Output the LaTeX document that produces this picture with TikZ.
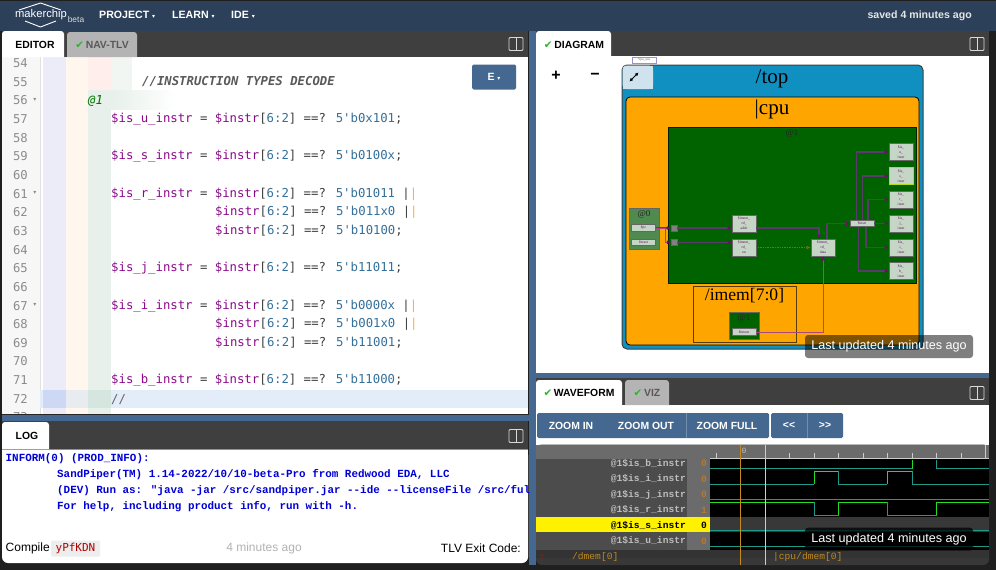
\documentclass[tikz,border=0pt]{standalone}
\usepackage{fontspec}
\usetikzlibrary{arrows.meta}
\setmainfont{Liberation Sans}
\newfontfamily\codefont{DejaVu Sans Mono}
\newfontfamily\logfont{Liberation Mono}
\newfontfamily\diagfont{Liberation Serif}
\newfontfamily\symfont{DejaVu Sans}
\newcommand{\fsz}[1]{\fontsize{#1}{#1}\selectfont}
\definecolor{topbar}{HTML}{2D4059}
\definecolor{steel}{HTML}{44688F}
\definecolor{tabbar}{HTML}{3F3F3F}
\definecolor{tabgray}{HTML}{B4B4B4}
\definecolor{okgreen}{HTML}{2DB52D}
\definecolor{varpurple}{HTML}{8B0A8B}
\definecolor{numblue}{HTML}{35709A}
\definecolor{barorange}{HTML}{F5B041}
\definecolor{topblue}{HTML}{1090C0}
\definecolor{cpuorange}{HTML}{FFA500}
\definecolor{expandpale}{HTML}{CFE3EF}
\definecolor{stagezero}{HTML}{4F8A4F}
\definecolor{wirepurple}{HTML}{5B3A6E}
\definecolor{tippurple}{HTML}{800080}
\definecolor{wirepink}{HTML}{A8487E}
\definecolor{boxfill}{HTML}{C6D6C6}
\definecolor{lowteal}{HTML}{1F9A8A}
\definecolor{highgreen}{HTML}{22DD22}
\definecolor{namegray}{HTML}{BDBDBD}
\definecolor{valorange}{HTML}{B57A30}
\definecolor{dmemorange}{HTML}{C08A20}
\definecolor{cursorline}{HTML}{C88A1E}
\definecolor{bandblue}{HTML}{ECECF8}
\definecolor{bandorange}{HTML}{FFF7EE}
\definecolor{bandpink}{HTML}{FFEEEC}
\definecolor{bandgreen}{HTML}{E7F0EA}
\definecolor{lineblue}{HTML}{E3EDF9}
\definecolor{linebandblue}{HTML}{CCD8F4}
\definecolor{linebandgray}{HTML}{E8EBF0}
\definecolor{linebandgreen}{HTML}{D5E6E0}
\newcommand{\sigvar}[1]{\textcolor{varpurple}{#1}}
\newcommand{\numval}[1]{\textcolor{numblue}{#1}}
\newcommand{\rhsmatch}[1]{\sigvar{\$instr}[\numval{6:2}] ==? \numval{#1}}
\newcommand{\barop}{|\textcolor{barorange}{|}}
\tikzset{
  lineno/.style={anchor=east,inner sep=0pt,yshift=-.5pt,text=black!45,font=\codefont\fsz{12.2}},
  foldmark/.style={inner sep=0pt,text=black!45,font=\symfont\fsz{6}},
  codeline/.style={anchor=west,inner sep=0pt,yshift=-.8pt,text=black!75,font=\codefont\fsz{12.3}},
  tablabel/.style={inner sep=0pt,font=\bfseries\fsz{10.4}},
  menulabel/.style={inner sep=0pt,text=white,font=\bfseries\fsz{10.6}},
  loglabel/.style={anchor=west,inner sep=0pt,text=blue!85!black,font=\logfont\bfseries\fsz{10.9}},
  iconbox/.style={draw=black!15,line width=.9pt,rounded corners=1pt,minimum width=14pt,minimum height=13pt,inner sep=0pt},
  toast/.style={fill=black,fill opacity=.5,text opacity=1,text=white,rounded corners=3pt,minimum width=168pt,minimum height=23pt,inner sep=0pt,font=\fsz{12.6}},
  sigbox/.style={draw=black!60,fill=boxfill,line width=.7pt,minimum width=24pt,minimum height=17pt,inner sep=0pt,align=center,text=varpurple!70!black,font=\diagfont\fontsize{3.7}{5}\selectfont},
  flatbox/.style={sigbox,minimum height=6.5pt},
  portbox/.style={draw=black!60,fill=black!50,minimum width=6pt,minimum height=6pt,inner sep=0pt},
  stagelabel/.style={inner sep=0pt,text=black!85,font=\diagfont\fsz{9}},
  scopelabel/.style={inner sep=0pt,text=black,font=\diagfont\fsz{21}},
  wire/.style={draw=wirepurple,line width=1.2pt,-{Latex[length=4pt,width=4pt,color=tippurple]}},
  thinwire/.style={draw=wirepink,line width=.7pt,-{Latex[length=4pt,width=4pt,color=tippurple]}},
  dotwire/.style={draw=cpuorange!60!black,line width=.7pt,densely dotted,-{Latex[open,length=4pt,width=4pt]}},
  zoombtn/.style={inner sep=0pt,text=white,font=\bfseries\fsz{10.4}},
  wavename/.style={anchor=east,inner sep=0pt,text=namegray,font=\logfont\bfseries\fsz{9.6}},
  waveval/.style={inner sep=0pt,text=valorange,font=\logfont\bfseries\fsz{9.6}},
  lowline/.style={draw=lowteal,line width=.9pt},
  highline/.style={draw=highgreen,line width=.9pt}
}
\begin{document}
\begin{tikzpicture}[x=1pt,y=-1pt]
\useasboundingbox (0,0) rectangle (996,570);
\fill [black!88] (0,0) rectangle (996,570);
\fill [steel] (529,31) rectangle (536,565);
\fill [topbar] (0,1) rectangle (996,31);
% top bar
\draw [white,line width=.9pt] (19,10) -- (40.5,3) -- (61,10);
\draw [white,line width=.9pt] (25,21) -- (40.5,27) -- (56,21);
\node [inner sep=0pt,text=white,font=\fsz{11.2}] (logo) at (41,15) {makerchip};
\node [inner sep=0pt,text=white!85!black,font=\fsz{8.4}] (beta) at (76,19.5) {beta};
\node [menulabel,anchor=west] (project) at (99,15) {PROJECT \symfont\fsz{6}▾};
\node [menulabel,anchor=west] (learn) at (172,15) {LEARN \symfont\fsz{6}▾};
\node [menulabel,anchor=west] (ide) at (231,15) {IDE \symfont\fsz{6}▾};
\node [menulabel,anchor=east,text=white!90!black] (saved) at (972,15.5) {saved 4 minutes ago};
% editor panel
\fill [tabbar] (2,31) rectangle (528,57);
\fill [white] (2,57) rectangle (528,414);
\fill [black!3] (2,57) rectangle (40,414);
\fill [black!12] (39.5,57) rectangle (40.5,414);
\fill [bandblue] (43,57) rectangle (66,414);
\fill [bandorange] (66,57) rectangle (88,414);
\fill [bandpink] (88,57) rectangle (111,90);
\fill [bandgreen] (88,90) rectangle (111,414);
\fill [bandgreen!60!white] (111,57) rectangle (132,90);
\shade [left color=bandgreen,right color=white] (111,90) rectangle (176,109);
\fill [lineblue] (40,389.5) rectangle (528,408);
\fill [linebandblue] (43,389.5) rectangle (66,408);
\fill [linebandgray] (66,389.5) rectangle (88,408);
\fill [linebandgreen] (88,389.5) rectangle (111,408);
\path [fill=white,rounded corners=3pt] (2,57) -- (2,31) -- (64,31) -- (64,57);
\path [fill=tabgray,rounded corners=3pt] (67,57) -- (67,32) -- (137,32) -- (137,57);
\node [tablabel] (editortab) at (35,45) {EDITOR};
\node [tablabel,text=black!65] (navtab) at (102,45) {\textcolor{okgreen}{\symfont ✔}\,NAV-TLV};
\node [iconbox,draw=black!15] (editoricon) at (516,44) {};
\draw [black!15,line width=.9pt] (editoricon.north) -- (editoricon.south);
\node [fill=steel,rounded corners=1.5pt,minimum width=44pt,minimum height=25pt,inner sep=0pt,text=white,font=\bfseries\fsz{10.5}] (ebtn) at (494,77) {E \symfont\fsz{6}▾};
\node [lineno] (ln54) at (28,62.5) {54};
\node [lineno] (ln55) at (28,81.2) {55};
\node [lineno] (ln56) at (28,99.8) {56};
\node [lineno] (ln57) at (28,118.5) {57};
\node [lineno] (ln58) at (28,137.1) {58};
\node [lineno] (ln59) at (28,155.8) {59};
\node [lineno] (ln60) at (28,174.5) {60};
\node [lineno] (ln61) at (28,193.1) {61};
\node [lineno] (ln62) at (28,211.8) {62};
\node [lineno] (ln63) at (28,230.4) {63};
\node [lineno] (ln64) at (28,249.1) {64};
\node [lineno] (ln65) at (28,267.8) {65};
\node [lineno] (ln66) at (28,286.4) {66};
\node [lineno] (ln67) at (28,305.1) {67};
\node [lineno] (ln68) at (28,323.7) {68};
\node [lineno] (ln69) at (28,342.4) {69};
\node [lineno] (ln70) at (28,361) {70};
\node [lineno] (ln71) at (28,379.7) {71};
\node [lineno] (ln72) at (28,398.4) {72};
\node [lineno] (ln73) at (28,417) {73};
\node [foldmark] (fold56) at (35,100) {▾};
\node [foldmark] (fold61) at (35,193) {▾};
\node [foldmark] (fold67) at (35,305) {▾};
\node [codeline,text=black!65,font=\codefont\bfseries\itshape\fsz{12.3}] (comment55) at (142,81.2) {//INSTRUCTION TYPES DECODE};
\node [codeline,text=green!45!black,font=\codefont\itshape\fsz{12.3}] (stage56) at (88,99.8) {@1};
\node [codeline] (code57) at (111,118.5) {\sigvar{\$is\_u\_instr} = \rhsmatch{5'b0x101};};
\node [codeline] (code59) at (111,155.8) {\sigvar{\$is\_s\_instr} = \rhsmatch{5'b0100x};};
\node [codeline] (code61) at (111,193.1) {\sigvar{\$is\_r\_instr} = \rhsmatch{5'b01011} \barop};
\node [codeline] (code62) at (215,211.8) {\rhsmatch{5'b011x0} \barop};
\node [codeline] (code63) at (215,230.4) {\rhsmatch{5'b10100};};
\node [codeline] (code65) at (111,267.8) {\sigvar{\$is\_j\_instr} = \rhsmatch{5'b11011};};
\node [codeline] (code67) at (111,305.1) {\sigvar{\$is\_i\_instr} = \rhsmatch{5'b0000x} \barop};
\node [codeline] (code68) at (215,323.7) {\rhsmatch{5'b001x0} \barop};
\node [codeline] (code69) at (215,342.4) {\rhsmatch{5'b11001};};
\node [codeline] (code71) at (111,379.7) {\sigvar{\$is\_b\_instr} = \rhsmatch{5'b11000};};
\node [codeline,text=black!60] (code72) at (111,398.4) {//};
\fill [steel] (2,414) rectangle (529,421);
\fill [black!85] (2,414) rectangle (529,415);
% log panel
\fill [tabbar] (2,421) rectangle (528,449);
\path [fill=white,rounded corners=6pt] (2,449) -- (2,563) -- (528,563) -- (528,449) -- cycle;
\fill [white] (2,449) rectangle (528,456);
\fill [steel!70] (2,449) rectangle (528,449.8);
\path [fill=white,rounded corners=3pt] (2,449) -- (2,422) -- (49,422) -- (49,449);
\node [tablabel] (logtab) at (27,436) {LOG};
\node [iconbox] (logicon) at (516,436) {};
\draw [black!15,line width=.9pt] (logicon.north) -- (logicon.south);
\node [loglabel] (log1) at (5.5,458.3) {INFORM(0) (PROD\_INFO):};
\node [loglabel] (log2) at (57,474.7) {SandPiper(TM) 1.14-2022/10/10-beta-Pro from Redwood EDA, LLC};
\node [loglabel] (log3) at (57,491) {(DEV) Run as: "java -jar /src/sandpiper.jar --ide --licenseFile /src/ful};
\node [loglabel] (log4) at (57,507) {For help, including product info, run with -h.};
\node [anchor=west,inner sep=0pt,font=\fsz{12}] (compile) at (5.5,548) {Compile};
\node [fill=black!7,rounded corners=1pt,minimum width=49pt,minimum height=16pt,inner sep=0pt,text=red!70!black,font=\codefont\fsz{11}] (chip) at (75.5,548.5) {yPfKDN};
\node [inner sep=0pt,text=black!30,font=\fsz{12}] (ago) at (264,548) {4 minutes ago};
\node [anchor=east,inner sep=0pt,font=\fsz{12}] (exit) at (521,548) {TLV Exit Code:};
% diagram panel
\fill [tabbar] (536,31) rectangle (989,57);
\fill [white] (536,56) rectangle (989,373);
\fill [steel] (536,373) rectangle (989,378);
\path [fill=white,rounded corners=3pt] (536,57) -- (536,31) -- (611,31) -- (611,57);
\node [tablabel] (diagramtab) at (574,44.5) {\textcolor{okgreen}{\symfont ✔}\,DIAGRAM};
\node [iconbox] (diagramicon) at (977,44) {};
\draw [black!15,line width=.9pt] (diagramicon.north) -- (diagramicon.south);
\node [draw=blue!40!gray!60,line width=.5pt,minimum width=24pt,minimum height=6pt,inner sep=0pt,text=black!60,font=\fsz{3}] (cpuuse) at (644,60) {*cpu\_use};
\node [inner sep=0pt,font=\bfseries\fsz{16}] (plus) at (556,76) {+};
\node [inner sep=0pt,font=\bfseries\fsz{16}] (minus) at (595,76) {−};
\draw [black!75,fill=topblue,line width=1pt,rounded corners=5pt] (622,65) rectangle (923,349);
\path [fill=expandpale,rounded corners=4pt] (653,89) -- (622.5,89) -- (622.5,65.5) -- (653,65.5) -- cycle;
\fill [expandpale] (640,89) rectangle (653,65.5);
\fill [expandpale] (622.5,80) rectangle (653,89);
\draw [{Latex[length=3.5pt,width=3.5pt]}-{Latex[length=3.5pt,width=3.5pt]},line width=1pt] (629.5,81.5) -- (638.5,72.5);
\node [scopelabel] (toplabel) at (772,79) {/top};
\draw [black,fill=cpuorange,line width=.8pt,rounded corners=4pt] (626,97) rectangle (919,345);
\node [scopelabel] (cpulabel) at (772,109) {|cpu};
\draw [black!70!green!40!black,fill=green!39!black,line width=.8pt] (668,127) rectangle (916,283);
\node [stagelabel] (stage1) at (792,133) {@1};
\draw [black!60,fill=stagezero,line width=.8pt] (629,208) rectangle (659,249);
\node [stagelabel] (stage0) at (644,214) {@0};
\node [flatbox] (pc) at (643.5,228) {\$pc};
\node [flatbox] (reset) at (643.5,242.5) {\$reset};
\node [portbox] (port1) at (674,228) {};
\node [portbox] (port2) at (674,242.3) {};
\node [sigbox] (addr) at (744,223.5) {\$imem\_\\rd\_\\addr};
\node [sigbox] (en) at (744,247.5) {\$imem\_\\rd\_\\en};
\node [sigbox] (data) at (823,247.5) {\$imem\_\\rd\_\\data};
\node [flatbox] (instr) at (862,223.5) {\$instr};
\node [sigbox] (isu) at (901,152) {\$is\_\\u\_\\instr};
\node [sigbox,draw=yellow!70!green] (iss) at (901,176) {\$is\_\\s\_\\instr};
\node [sigbox] (isr) at (901,199.5) {\$is\_\\r\_\\instr};
\node [sigbox] (isj) at (901,223.5) {\$is\_\\j\_\\instr};
\node [sigbox] (isi) at (901,247.5) {\$is\_\\i\_\\instr};
\node [sigbox] (isb) at (901,271) {\$is\_\\b\_\\instr};
\draw [black!65!cpuorange,line width=.8pt] (693,286) rectangle (796,342);
\node [scopelabel,font=\diagfont\fsz{17.6}] (imemlabel) at (744.5,296) {/imem[7:0]};
\draw [black!60,fill=green!39!black,line width=.8pt] (729,312) rectangle (759,339);
\node [stagelabel] (stage1b) at (744,318) {@1};
\node [flatbox] (imem) at (744,332) {\$imem};
\draw [wire] (pc.east) -- (port1.west);
\draw [thinwire] (pc.east) -- ++(9,0) |- (port2.west);
\draw [wire] (port1.east) -- (port1.east -| addr.west);
\draw [wire,line width=.8pt] (port2.east) -- (port2.east -| en.west);
\draw [wire] (port1.east -| addr.east) -| ([xshift=-4pt]data.north);
\draw [dotwire] (en.east) -- (data.west);
\draw [thinwire] (imem.east) -| (data.south);
\draw [wire] ([xshift=4pt]data.north) |- (instr.west);
\draw [wire] ([xshift=-5.3pt]instr.north) |- (isu.west);
\draw [wire] ([xshift=.7pt]instr.north) |- (iss.west);
\draw [wire] ([xshift=6pt]instr.north) |- (isr.west);
\draw [wire] (instr.east) -- (isj.west);
\draw [wire] ([xshift=4pt]instr.south) |- (isi.west);
\draw [wire] ([xshift=-3.3pt]instr.south) |- (isb.west);
\node [toast] (toastdiagram) at (889,346.5) {Last updated 4 minutes ago};
% waveform panel
\fill [tabbar] (536,378) rectangle (989,405);
\fill [white] (536,405) rectangle (989,445);
\path [fill=white,rounded corners=3pt] (536,405) -- (536,380) -- (622,380) -- (622,405);
\path [fill=tabgray,rounded corners=3pt] (625,405) -- (625,380) -- (669,380) -- (669,405);
\node [tablabel] (wavetab) at (579,393) {\textcolor{okgreen}{\symfont ✔}\,WAVEFORM};
\node [tablabel,text=black!65] (viztab) at (647,393) {\textcolor{okgreen}{\symfont ✔}\,VIZ};
\node [iconbox] (waveicon) at (977,393) {};
\draw [black!15,line width=.9pt] (waveicon.north) -- (waveicon.south);
\path [fill=steel,rounded corners=1.5pt] (537,413) rectangle (769,438);
\path [fill=steel,rounded corners=1.5pt] (771,413) rectangle (843,438);
\draw [steel!75!white,line width=.6pt] (686.7,413) -- (686.7,438);
\draw [steel!75!white,line width=.6pt] (807,413) -- (807,438);
\node [zoombtn] (zoomin) at (571,425.5) {ZOOM IN};
\node [zoombtn] (zoomout) at (646,425.5) {ZOOM OUT};
\node [zoombtn] (zoomfull) at (727,425.5) {ZOOM FULL};
\node [zoombtn] (prevbtn) at (789,425.5) {<{}<};
\node [zoombtn] (nextbtn) at (825,425.5) {>{}>};
\path [fill=black!78,rounded corners=6pt] (536,444.5) -- (536,565) -- (989,565) -- (989,444.5) -- cycle;
\fill [black!58] (536,444.5) rectangle (989,459);
\fill [black!70] (536,459) rectangle (687,550);
\fill [black!58] (687,459) rectangle (710,550);
\fill [black] (710,459) rectangle (989,550);
\fill [black!78] (710,516.5) rectangle (989,532);
\fill [yellow] (536,516.5) rectangle (710,532);
\fill [black!80] (536,550) rectangle (989,558);
\draw [lowline] (710,468.7) -- (912.3,468.7);
\draw [highline] (912.3,468.7) -- (912.3,459.5);
\draw [lowline] (936.7,459.5) -- (936.7,468.7) -- (989,468.7);
\draw [lowline] (710,484.2) -- (814.3,484.2);
\draw [highline] (814.3,484.2) -- (814.3,471.2) -- (838.7,471.2);
\draw [lowline] (838.7,471.2) -- (838.7,484.2) -- (887.3,484.2);
\draw [highline] (887.3,484.2) -- (887.3,471.2) -- (912.3,471.2);
\draw [lowline] (912.3,471.2) -- (912.3,484.2) -- (989,484.2);
\draw [lowline,line width=1.4pt] (710,499.7) -- (989,499.7);
\draw [highline] (710,502.2) -- (814.3,502.2);
\draw [lowline] (814.3,502.2) -- (814.3,515.2) -- (838.7,515.2);
\draw [highline] (838.7,515.2) -- (838.7,502.2) -- (887.3,502.2);
\draw [lowline] (887.3,502.2) -- (887.3,515.2) -- (936.7,515.2);
\draw [highline] (936.7,515.2) -- (936.7,502.2) -- (989,502.2);
\draw [lowline] (710,530.7) -- (989,530.7);
\draw [lowline] (710,546.2) -- (989,546.2);
\draw [black!20,line width=.8pt] (710,458.7) -- (989,458.7);
\draw [black!20,line width=.6pt] (716,453) -- (716,458);
\draw [black!20,line width=.6pt] (789.7,453) -- (789.7,458);
\draw [black!20,line width=.6pt] (814.3,453) -- (814.3,458);
\draw [black!20,line width=.6pt] (838.7,453) -- (838.7,458);
\draw [black!20,line width=.6pt] (863,453) -- (863,458);
\draw [black!20,line width=.6pt] (887.3,453) -- (887.3,458);
\draw [black!20,line width=.6pt] (912.3,453) -- (912.3,458);
\draw [black!20,line width=.6pt] (936.7,453) -- (936.7,458);
\draw [black!20,line width=.6pt] (961.3,453) -- (961.3,458);
\draw [black!20,line width=.8pt] (985.7,444.5) -- (985.7,458);
\draw [cursorline,line width=.8pt] (740.7,444.5) -- (740.7,565);
\draw [black!20,line width=.8pt] (765.3,444.5) -- (765.3,565);
\node [inner sep=0pt,text=black!25,font=\logfont\fsz{8}] (tzero) at (744,451) {0};
\node [wavename] (nameb) at (686,463.5) {@1\$is\_b\_instr};
\node [wavename] (namei) at (686,479) {@1\$is\_i\_instr};
\node [wavename] (namej) at (686,494.5) {@1\$is\_j\_instr};
\node [wavename] (namer) at (686,510) {@1\$is\_r\_instr};
\node [wavename,text=black] (names) at (686,525.5) {@1\$is\_s\_instr};
\node [wavename] (nameu) at (686,541) {@1\$is\_u\_instr};
\node [waveval] (valb) at (704,463.5) {0};
\node [waveval] (vali) at (704,479) {0};
\node [waveval] (valj) at (704,494.5) {0};
\node [waveval] (valr) at (704,510) {1};
\node [waveval,text=black] (vals) at (704,525.5) {0};
\node [waveval] (valu) at (704,541) {0};
\node [inner sep=0pt,text=red!80!black,font=\logfont\fsz{10}] (addsig) at (542,556.5) {+};
\node [anchor=west,inner sep=0pt,text=dmemorange,font=\logfont\fsz{9.6}] (dmemname) at (572,556.7) {/dmem[0]};
\node [anchor=west,inner sep=0pt,text=dmemorange,font=\logfont\fsz{9.6}] (dmempath) at (773,556.7) {|cpu/dmem[0]};
\node [toast,fill opacity=.72] (toastwave) at (889,539.2) {Last updated 4 minutes ago};
\end{tikzpicture}
\end{document}
